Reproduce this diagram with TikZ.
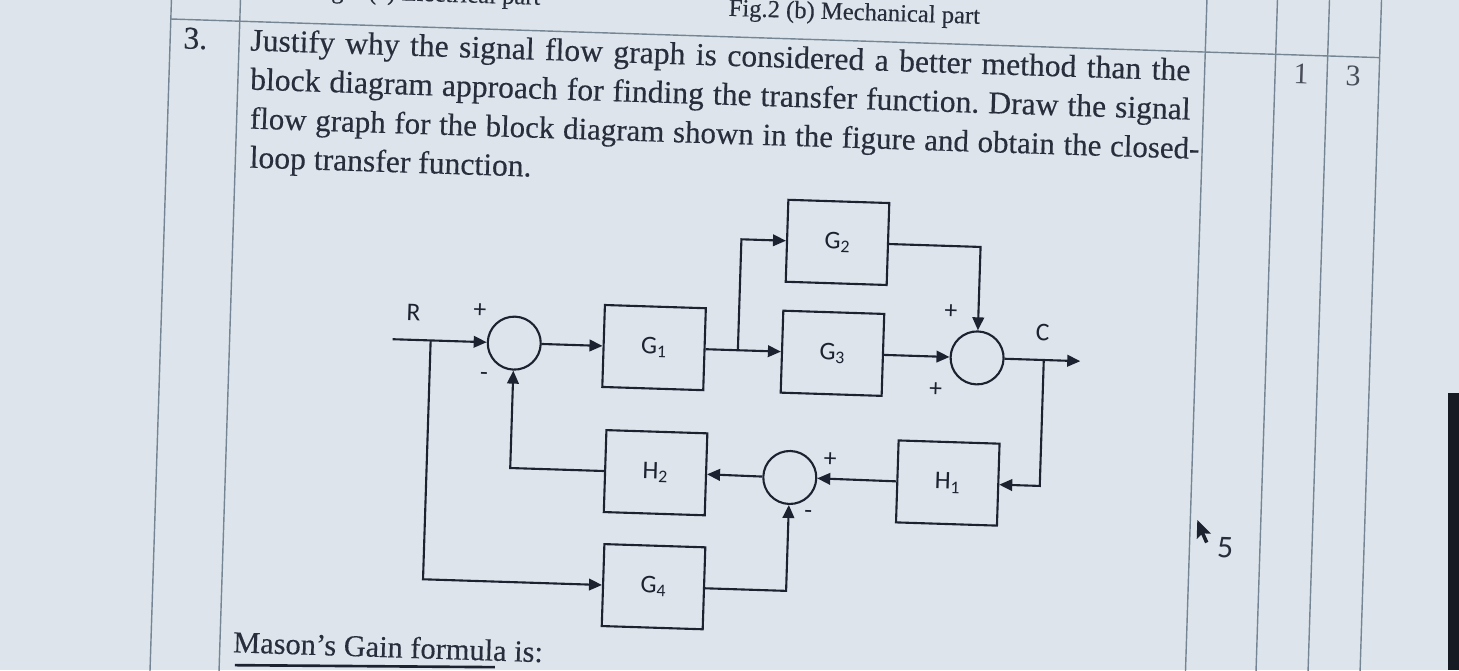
\documentclass[tikz,border=0pt]{standalone}
\usepackage{fontspec}
\setmainfont{Liberation Serif}
\newfontfamily\questfont[FakeBold=0.3]{Liberation Serif}
\newfontfamily\labelfont{Carlito}
\usetikzlibrary{arrows.meta,positioning}
\frenchspacing

\definecolor{paper}{RGB}{221,228,235}
\definecolor{gridline}{RGB}{118,133,148}
\definecolor{ink}{RGB}{40,46,60}
\definecolor{wire}{RGB}{28,34,48}
\definecolor{bezel}{RGB}{22,26,34}

\begin{document}
\begin{tikzpicture}[
    x=0.02cm, y=-0.02cm,
    block/.style={rectangle, draw=wire, line width=1.2pt, minimum width=2.02cm, minimum height=1.64cm, inner sep=0pt, text=wire, font=\labelfont\fontsize{14.5}{17}\selectfont},
    junction/.style={circle, draw=wire, line width=1.2pt, minimum size=1.06cm, inner sep=0pt},
    sign/.style={inner sep=0pt, text=wire, font=\labelfont\fontsize{14.5}{17}\selectfont},
    flow/.style={-{Triangle[length=7.4pt,width=6.6pt]}, draw=wire, line width=1.2pt},
    tablerule/.style={draw=gridline, line width=0.8pt},
    qtext/.style={anchor=base west, inner sep=0pt, text=ink, font=\questfont\fontsize{18}{21}\selectfont},
    figcap/.style={inner sep=0pt, text=ink, font=\questfont\fontsize{14}{17}\selectfont},
    scoretext/.style={anchor=base, inner sep=0pt, text=ink!85, font=\fontsize{17}{20}\selectfont}
]
    \useasboundingbox (0,0) rectangle (1459,670);
    \fill[paper] (0,0) rectangle (1459,670);
    \clip (0,0) rectangle (1459,670);

    \begin{scope}[rotate around={-1.83:(730,335)}, transform shape]
        % table
        \foreach \xr in {161,230,1196,1266.5,1318.5,1370.5}
            \draw[tablerule] (\xr,-40) -- (\xr,720);
        \draw[tablerule] (161,37) -- (1370.5,37);

        \node[figcap, anchor=base east] (capa) at (530,11) {Fig.2 (a) Electrical part};
        \node[figcap, anchor=base west] (capb) at (718,16) {Fig.2 (b) Mechanical part};

        % question
        \node[qtext] (qno) at (174,66) {3.};
        \node[qtext] (qline1) at (241,66) {\makebox[18.81cm][s]{Justify why the signal flow graph is considered a better method than the}};
        \node[qtext] (qline2) at (242,105) {\makebox[18.82cm][s]{block diagram approach for finding the transfer function. Draw the signal}};
        \node[qtext, font=\questfont\fontsize{17.6}{21}\selectfont] (qline3) at (243,144) {\makebox[19cm][s]{flow graph for the block diagram shown in the figure and obtain the closed-}};
        \node[qtext] (qline4) at (244,183) {loop transfer function.};
        \node[scoretext] (co) at (1292.5,66) {1};
        \node[scoretext] (bt) at (1344.5,66) {3};

        % block diagram
        \coordinate (rin) at (393,350);
        \coordinate (rtap) at (431,350);
        \node[junction] (sum1) at (514.6,350) {};
        \node[block] (g1) at (654.5,350) {G\textsubscript{1}};
        \coordinate (split) at (738.4,350);
        \node[block] (g2) at (834.5,239) {G\textsubscript{2}};
        \node[block] (g3) at (833,350) {G\textsubscript{3}};
        \node[junction] (sum2) at (977.7,350) {};
        \coordinate (ctap) at (1044.5,350);
        \coordinate (cout) at (1081,350);
        \node[block] (h2) at (660,475) {H\textsubscript{2}};
        \node[junction] (sum3) at (794.3,475.5) {};
        \node[block] (h1) at (952.4,476) {H\textsubscript{1}};
        \node[block] (g4) at (661.6,589) {G\textsubscript{4}};

        \draw[flow] (rin) -- (sum1.west);
        \draw[flow] (sum1.east) -- (g1.west);
        \draw[flow] (g1.east) -- (g3.west);
        \draw[flow] (split) |- (g2.west);
        \draw[flow] (g2.east) -| (sum2.north);
        \draw[flow] (g3.east) -- (sum2.west);
        \draw[flow] (sum2.east) -- (cout);
        \draw[flow] (ctap) |- (h1.east);
        \draw[flow] (h1.west) -- (sum3.east);
        \draw[flow] (sum3.west) -- (h2.east);
        \draw[flow] (h2.west) -| (sum1.south);
        \draw[flow] (rtap) |- (g4.west);
        \draw[flow] (g4.east) -| (sum3.south);

        \node[sign] (rlabel) at (413,323) {R};
        \node[sign] (clabel) at (1042.4,322.7) {C};
        \node[sign] (s1plus) at (479.2,318.8) {+};
        \node[sign] (s1minus) at (485.3,383.9) {-};
        \node[sign] (s2plusa) at (950,304.7) {+};
        \node[sign] (s2plusb) at (937.3,383.4) {+};
        \node[sign] (s3plus) at (834,456.8) {+};
        \node[sign] (s3minus) at (813.7,511.5) {-};

        % pointer and page number
        \fill[wire] (1203,505) -- ++(0,19) -- ++(4.5,-4.5) -- ++(4,8.5) -- ++(3.2,-1.6) -- ++(-4,-8.2) -- ++(6.5,0) -- cycle;
        \node[inner sep=0pt, text=ink, font=\labelfont\fontsize{18}{20}\selectfont] (pageno) at (1231.8,532.2) {5};

        \node[qtext, font=\questfont\fontsize{17.3}{20}\selectfont] (mason) at (243,668) {Mason’s Gain formula is:};
        \draw[wire, line width=1.5pt] (245.6,680.8) -- (505.6,674.5);
    \end{scope}

    \fill[bezel] (1448,393) rectangle (1459,670);
\end{tikzpicture}
\end{document}
